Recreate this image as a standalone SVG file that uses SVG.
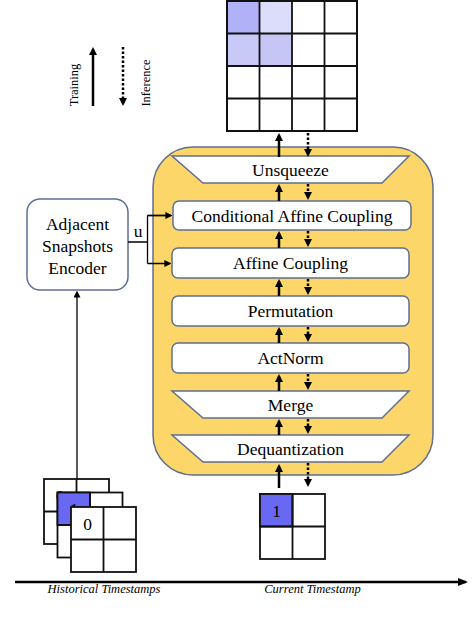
<svg xmlns="http://www.w3.org/2000/svg" width="474" height="628" viewBox="0 0 474 628">
<style>
.t{font-family:"Liberation Serif","Times New Roman",serif;font-size:17.5px;fill:#000;text-anchor:middle}
.s{font-family:"Liberation Serif","Times New Roman",serif;font-size:12.5px;fill:#000;text-anchor:middle}
.i{font-family:"Liberation Serif","Times New Roman",serif;font-size:12.5px;font-style:italic;fill:#000;text-anchor:middle}
.box{fill:#fff;stroke:#5f6f8f;stroke-width:1.5}
.g{fill:#fff;stroke:#111;stroke-width:1.8}
.gl{stroke:#111;stroke-width:1.8;fill:none}
.up{stroke:#000;stroke-width:2.5;fill:none}
.dn{stroke:#000;stroke-width:2.5;stroke-dasharray:2.5 2;fill:none}
.ln{stroke:#000;stroke-width:1.3;fill:none}
</style>
<defs>
<marker id="ah" viewBox="0 0 10 10" refX="7" refY="5" markerWidth="8" markerHeight="8" markerUnits="userSpaceOnUse" orient="auto"><path d="M0,0 L10,5 L0,10 z" fill="#000"/></marker>
<marker id="ahs" viewBox="0 0 10 10" refX="8" refY="5" markerWidth="7" markerHeight="7" markerUnits="userSpaceOnUse" orient="auto"><path d="M0,0 L10,5 L0,10 z" fill="#000"/></marker>
<marker id="ahb" viewBox="0 0 10 10" refX="8" refY="5" markerWidth="10" markerHeight="10" markerUnits="userSpaceOnUse" orient="auto"><path d="M0,1 L10,5 L0,9 z" fill="#000"/></marker>
</defs>
<rect width="474" height="628" fill="#fff"/>

<g id="legend">
<line class="up" x1="93" y1="106" x2="93" y2="49.4" marker-end="url(#ah)"/>
<line class="dn" x1="123" y1="47" x2="123" y2="103.6" marker-end="url(#ah)"/>
<text class="s" transform="translate(78,85) rotate(-90)">Training</text>
<text class="s" transform="translate(150,83) rotate(-90)">Inference</text>
</g>

<g id="output-grid">
<rect x="227" y="1" width="32.5" height="32.5" fill="#b1b1f7"/>
<rect x="259.5" y="1" width="32.5" height="32.5" fill="#dcdcfb"/>
<rect x="227" y="33.5" width="32.5" height="32.5" fill="#c9c9f8"/>
<rect x="259.5" y="33.5" width="32.5" height="32.5" fill="#c6c6f5"/>
<rect x="227" y="1" width="130" height="130" fill="none" stroke="#111" stroke-width="2"/>
<path class="gl" d="M259.5,1V131M292,1V131M324.5,1V131M227,33.5H357M227,66H357M227,98.5H357"/>
</g>

<g id="flow-container">
<rect x="153" y="147" width="280" height="328" rx="40" fill="#fdd66a" stroke="#5f6f8f" stroke-width="1.5"/>
</g>

<g id="unsqueeze">
<polygon class="box" points="172,156 409,156 382,183 203,183"/>
<text class="t" x="290.5" y="175.5">Unsqueeze</text>
</g>
<g id="conditional-affine-coupling">
<rect class="box" x="173" y="201" width="238" height="29" rx="6"/>
<text class="t" x="292" y="221.5">Conditional Affine Coupling</text>
</g>
<g id="affine-coupling">
<rect class="box" x="172" y="248" width="237" height="30" rx="6"/>
<text class="t" x="290.5" y="269">Affine Coupling</text>
</g>
<g id="permutation">
<rect class="box" x="172" y="296" width="237" height="30" rx="6"/>
<text class="t" x="290.5" y="317">Permutation</text>
</g>
<g id="actnorm">
<rect class="box" x="172" y="343" width="237" height="30" rx="6"/>
<text class="t" x="290.5" y="364">ActNorm</text>
</g>
<g id="merge">
<polygon class="box" points="172,391 409,391 382,418 203,418"/>
<text class="t" x="290.5" y="410.5">Merge</text>
</g>
<g id="dequantization">
<polygon class="box" points="172,435 409,435 382,462 203,462"/>
<text class="t" x="290.5" y="454.5">Dequantization</text>
</g>

<g id="encoder">
<rect x="27" y="199" width="101" height="91" rx="13" fill="#fff" stroke="#5f6f9a" stroke-width="1.5"/>
<text class="t" x="77.5" y="230">Adjacent</text>
<text class="t" x="77.5" y="252">Snapshots</text>
<text class="t" x="77.5" y="273.5">Encoder</text>
</g>

<g id="historical-grids">
<rect class="g" x="44" y="479" width="65" height="65"/>
<path class="gl" d="M76.5,479V544M44,511.5H109"/>
<text class="t" x="60" y="501.5">0</text>
<rect class="g" x="57.5" y="492.5" width="65" height="65"/>
<rect x="57.5" y="492.5" width="32.5" height="32.5" fill="#6868f2" stroke="#111" stroke-width="1.8"/>
<path class="gl" d="M90,492.5V557.5M57.5,525H122.5"/>
<text class="t" x="74" y="514.5">1</text>
<rect class="g" x="71" y="507" width="65" height="65"/>
<path class="gl" d="M103.5,507V572M71,539.5H136"/>
<text class="t" x="87.5" y="530">0</text>
</g>

<g id="current-grid">
<rect class="g" x="260" y="494" width="65" height="65"/>
<rect x="260" y="494" width="32.5" height="32.5" fill="#6868f2" stroke="#111" stroke-width="1.8"/>
<path class="gl" d="M292.5,494V559M260,526.5H325"/>
<text class="t" x="276.5" y="517">1</text>
</g>

<g id="timeline">
<line x1="15" y1="582" x2="466" y2="582" stroke="#000" stroke-width="2.5" marker-end="url(#ahb)"/>
<text class="i" x="104" y="592.5">Historical Timestamps</text>
<text class="i" x="312.5" y="592.5">Current Timestamp</text>
</g>

<g id="connectors">
<line class="up" x1="279" y1="157" x2="279" y2="135.4" marker-end="url(#ah)"/>
<line class="dn" x1="308" y1="133" x2="308" y2="154.6" marker-end="url(#ah)"/>
<line class="up" x1="279" y1="201" x2="279" y2="186.4" marker-end="url(#ah)"/>
<line class="dn" x1="308" y1="184" x2="308" y2="197.6" marker-end="url(#ah)"/>
<line class="up" x1="279" y1="248" x2="279" y2="233.4" marker-end="url(#ah)"/>
<line class="dn" x1="308" y1="231" x2="308" y2="244.6" marker-end="url(#ah)"/>
<line class="up" x1="279" y1="296" x2="279" y2="281.4" marker-end="url(#ah)"/>
<line class="dn" x1="308" y1="279" x2="308" y2="292.6" marker-end="url(#ah)"/>
<line class="up" x1="279" y1="343" x2="279" y2="329.4" marker-end="url(#ah)"/>
<line class="dn" x1="308" y1="327" x2="308" y2="339.6" marker-end="url(#ah)"/>
<line class="up" x1="279" y1="391" x2="279" y2="376.4" marker-end="url(#ah)"/>
<line class="dn" x1="308" y1="374" x2="308" y2="387.6" marker-end="url(#ah)"/>
<line class="up" x1="279" y1="435" x2="279" y2="421.4" marker-end="url(#ah)"/>
<line class="dn" x1="308" y1="419" x2="308" y2="431.6" marker-end="url(#ah)"/>
<line class="up" x1="279" y1="488" x2="279" y2="466.4" marker-end="url(#ah)"/>
<line class="dn" x1="308" y1="463" x2="308" y2="484.6" marker-end="url(#ah)"/>
<line class="ln" x1="77" y1="479" x2="77" y2="292" marker-end="url(#ahs)"/>
<path class="ln" d="M128,242H147.5M147.5,215.5V263.5M147.5,215.5H171M147.5,263.5H170" marker-end="url(#ahs)"/>
<line class="ln" x1="147.5" y1="215.5" x2="171" y2="215.5" marker-end="url(#ahs)"/>
<text class="t" x="138" y="237">u</text>
</g>
</svg>
